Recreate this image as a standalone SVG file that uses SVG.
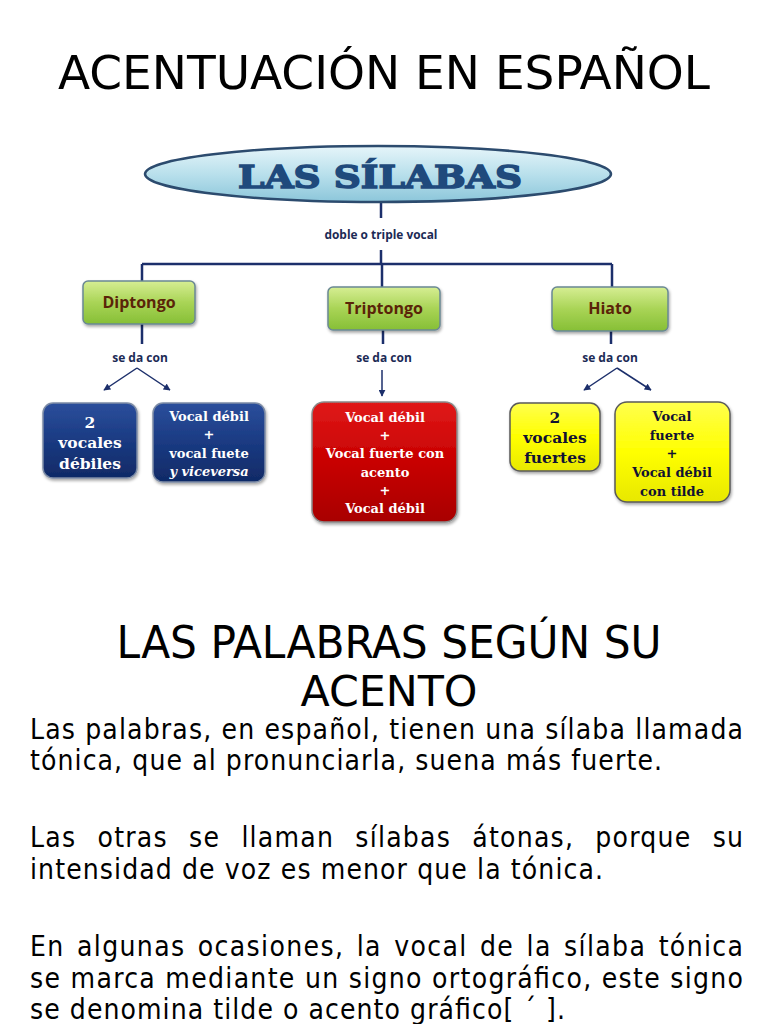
<svg xmlns="http://www.w3.org/2000/svg" width="768" height="1024" viewBox="0 0 768 1024">
<defs>
<linearGradient id="gEll" x1="0" y1="0" x2="0" y2="1"><stop offset="0" stop-color="#e6f5fa"/><stop offset="0.5" stop-color="#b9e0ec"/><stop offset="1" stop-color="#8cc6da"/></linearGradient>
<linearGradient id="gGreen" x1="0" y1="0" x2="0" y2="1"><stop offset="0" stop-color="#d6ee93"/><stop offset="0.5" stop-color="#a9d456"/><stop offset="1" stop-color="#86bf36"/></linearGradient>
<linearGradient id="gBlue" x1="0" y1="0" x2="0" y2="1"><stop offset="0" stop-color="#2c4f9c"/><stop offset="0.5" stop-color="#1a3a82"/><stop offset="1" stop-color="#102a66"/></linearGradient>
<linearGradient id="gRed" x1="0" y1="0" x2="0" y2="1"><stop offset="0" stop-color="#e01a1a"/><stop offset="0.5" stop-color="#c80000"/><stop offset="1" stop-color="#a80000"/></linearGradient>
<linearGradient id="gYel" x1="0" y1="0" x2="0" y2="1"><stop offset="0" stop-color="#ffff4d"/><stop offset="0.5" stop-color="#ffff00"/><stop offset="1" stop-color="#e8e800"/></linearGradient>
<filter id="sh" x="-10%" y="-10%" width="120%" height="130%"><feDropShadow dx="1" dy="2" stdDeviation="1.5" flood-color="#000" flood-opacity="0.35"/></filter>
<marker id="ah" viewBox="0 0 10 10" refX="9" refY="5" markerWidth="7" markerHeight="7" orient="auto-start-reverse" markerUnits="userSpaceOnUse"><path d="M0,0 L10,5 L0,10 z" fill="#1c2f6b"/></marker>
<style>
.title{font-family:"DejaVu Sans Condensed","DejaVu Sans",sans-serif;fill:#000;}
.body{font-family:"DejaVu Sans Condensed","DejaVu Sans",sans-serif;font-size:28px;fill:#000;}
.lbl{font-family:"Open Sans","Liberation Sans",sans-serif;font-weight:bold;font-size:12px;fill:#1c2a55;text-anchor:middle;}
.gtxt{font-family:"Open Sans","Liberation Sans",sans-serif;font-weight:bold;font-size:16px;fill:#5a2408;text-anchor:middle;}
.btxt{font-family:"DejaVu Serif",serif;font-weight:bold;font-size:13px;text-anchor:middle;}
.big{font-size:15.5px;}
.w{fill:#fff;}
.k{fill:#111133;}
.ln{stroke:#1c2f6b;stroke-width:2.5;fill:none;}
.ar{stroke:#1c2f6b;stroke-width:1.5;fill:none;}
</style>
</defs>
<rect width="768" height="1024" fill="#fff"/>
<text class="title" x="384" y="89" font-size="46" text-anchor="middle" textLength="652" lengthAdjust="spacingAndGlyphs">ACENTUACIÓN EN ESPAÑOL</text>

<g id="connectors">
<path class="ln" d="M381,202 V218"/>
<path class="ln" d="M381,250 V264"/>
<path class="ln" d="M142,264 H612 M142,264 V282 M382,264 V288 M612,264 V288"/>
<path class="ln" d="M142,324 V344 M383,330 V344 M611,331 V344"/>
<path class="ar" d="M137,368 L104,390" marker-end="url(#ah)"/>
<path class="ar" d="M137,368 L170,390" marker-end="url(#ah)"/>
<path class="ar" d="M382,370 V396" marker-end="url(#ah)"/>
<path class="ar" d="M617,368 L584,390" marker-end="url(#ah)"/>
<path class="ar" d="M617,368 L651,390" marker-end="url(#ah)"/>
<text class="lbl" x="381" y="239" font-size="11" textLength="113" lengthAdjust="spacingAndGlyphs">doble o triple vocal</text>
<text class="lbl" x="140" y="362">se da con</text>
<text class="lbl" x="384" y="362">se da con</text>
<text class="lbl" x="610" y="362">se da con</text>
</g>

<g id="silabas">
<ellipse cx="378" cy="174" rx="233" ry="28" fill="url(#gEll)" stroke="#2c4b6e" stroke-width="2.5"/>
<text x="380" y="188" text-anchor="middle" font-family="DejaVu Serif, serif" font-weight="bold" font-size="32" fill="#1f4a7c" stroke="#1f4a7c" stroke-width="1.5" textLength="284" lengthAdjust="spacingAndGlyphs">LAS  SÍLABAS</text>
</g>

<g id="diptongo">
<rect x="83" y="281" width="112" height="43" rx="5" fill="url(#gGreen)" stroke="#6a8894" stroke-width="1.5" filter="url(#sh)"/>
<text class="gtxt" x="139" y="308">Diptongo</text>
</g>
<g id="triptongo">
<rect x="328" y="287" width="112" height="43" rx="5" fill="url(#gGreen)" stroke="#6a8894" stroke-width="1.5" filter="url(#sh)"/>
<text class="gtxt" x="384" y="314">Triptongo</text>
</g>
<g id="hiato">
<rect x="552" y="287" width="116" height="44" rx="5" fill="url(#gGreen)" stroke="#6a8894" stroke-width="1.5" filter="url(#sh)"/>
<text class="gtxt" x="610" y="314">Hiato</text>
</g>

<g id="vocales-debiles">
<rect x="43" y="403" width="94" height="75" rx="10" fill="url(#gBlue)" stroke="#7d8ca6" stroke-width="1.5" filter="url(#sh)"/>
<text class="btxt w big" x="90" y="428">2</text>
<text class="btxt w big" x="90" y="448">vocales</text>
<text class="btxt w big" x="90" y="469">débiles</text>
</g>
<g id="debil-fuerte">
<rect x="153" y="403" width="112" height="79" rx="10" fill="url(#gBlue)" stroke="#7d8ca6" stroke-width="1.5" filter="url(#sh)"/>
<text class="btxt w" x="209" y="421">Vocal débil</text>
<text class="btxt w" x="209" y="439">+</text>
<text class="btxt w" x="209" y="458">vocal fuete</text>
<text class="btxt w" x="209" y="476" font-style="italic">y viceversa</text>
</g>
<g id="triptongo-def">
<rect x="312" y="402" width="145" height="120" rx="12" fill="url(#gRed)" stroke="#8a8a8a" stroke-width="1.5" filter="url(#sh)"/>
<text class="btxt w" x="385" y="422">Vocal débil</text>
<text class="btxt w" x="385" y="440">+</text>
<text class="btxt w" x="385" y="458">Vocal fuerte con</text>
<text class="btxt w" x="385" y="477">acento</text>
<text class="btxt w" x="385" y="495">+</text>
<text class="btxt w" x="385" y="513">Vocal débil</text>
</g>
<g id="vocales-fuertes">
<rect x="510" y="403" width="90" height="68" rx="10" fill="url(#gYel)" stroke="#5a5a5a" stroke-width="1.5" filter="url(#sh)"/>
<text class="btxt k big" x="555" y="423">2</text>
<text class="btxt k big" x="555" y="443">vocales</text>
<text class="btxt k big" x="555" y="463">fuertes</text>
</g>
<g id="fuerte-debil-tilde">
<rect x="615" y="402" width="115" height="100" rx="12" fill="url(#gYel)" stroke="#5a5a5a" stroke-width="1.5" filter="url(#sh)"/>
<text class="btxt k" x="672" y="421">Vocal</text>
<text class="btxt k" x="672" y="440">fuerte</text>
<text class="btxt k" x="672" y="458">+</text>
<text class="btxt k" x="672" y="477">Vocal débil</text>
<text class="btxt k" x="672" y="496">con tilde</text>
</g>

<text class="title" x="389" y="658" font-size="44" text-anchor="middle" textLength="545" lengthAdjust="spacingAndGlyphs">LAS PALABRAS SEGÚN SU</text>
<text class="title" x="389" y="706" font-size="43" text-anchor="middle" textLength="177" lengthAdjust="spacingAndGlyphs">ACENTO</text>

<text class="body" x="30" y="739" textLength="713" lengthAdjust="spacing">Las palabras, en español, tienen una sílaba llamada</text>
<text class="body" x="30" y="770" textLength="632" lengthAdjust="spacing">tónica, que al pronunciarla, suena más fuerte.</text>
<text class="body" x="30" y="847" word-spacing="12" textLength="713" lengthAdjust="spacing">Las otras se llaman sílabas átonas, porque su</text>
<text class="body" x="30" y="879" textLength="573" lengthAdjust="spacing">intensidad de voz es menor que la tónica.</text>
<text class="body" x="30" y="956" word-spacing="3" textLength="713" lengthAdjust="spacing">En algunas ocasiones, la vocal de la sílaba tónica</text>
<text class="body" x="30" y="988" textLength="713" lengthAdjust="spacing">se marca mediante un signo ortográfico, este signo</text>
<text class="body" x="30" y="1019" textLength="535" lengthAdjust="spacing">se denomina tilde o acento gráfico[ ´ ].</text>
</svg>
